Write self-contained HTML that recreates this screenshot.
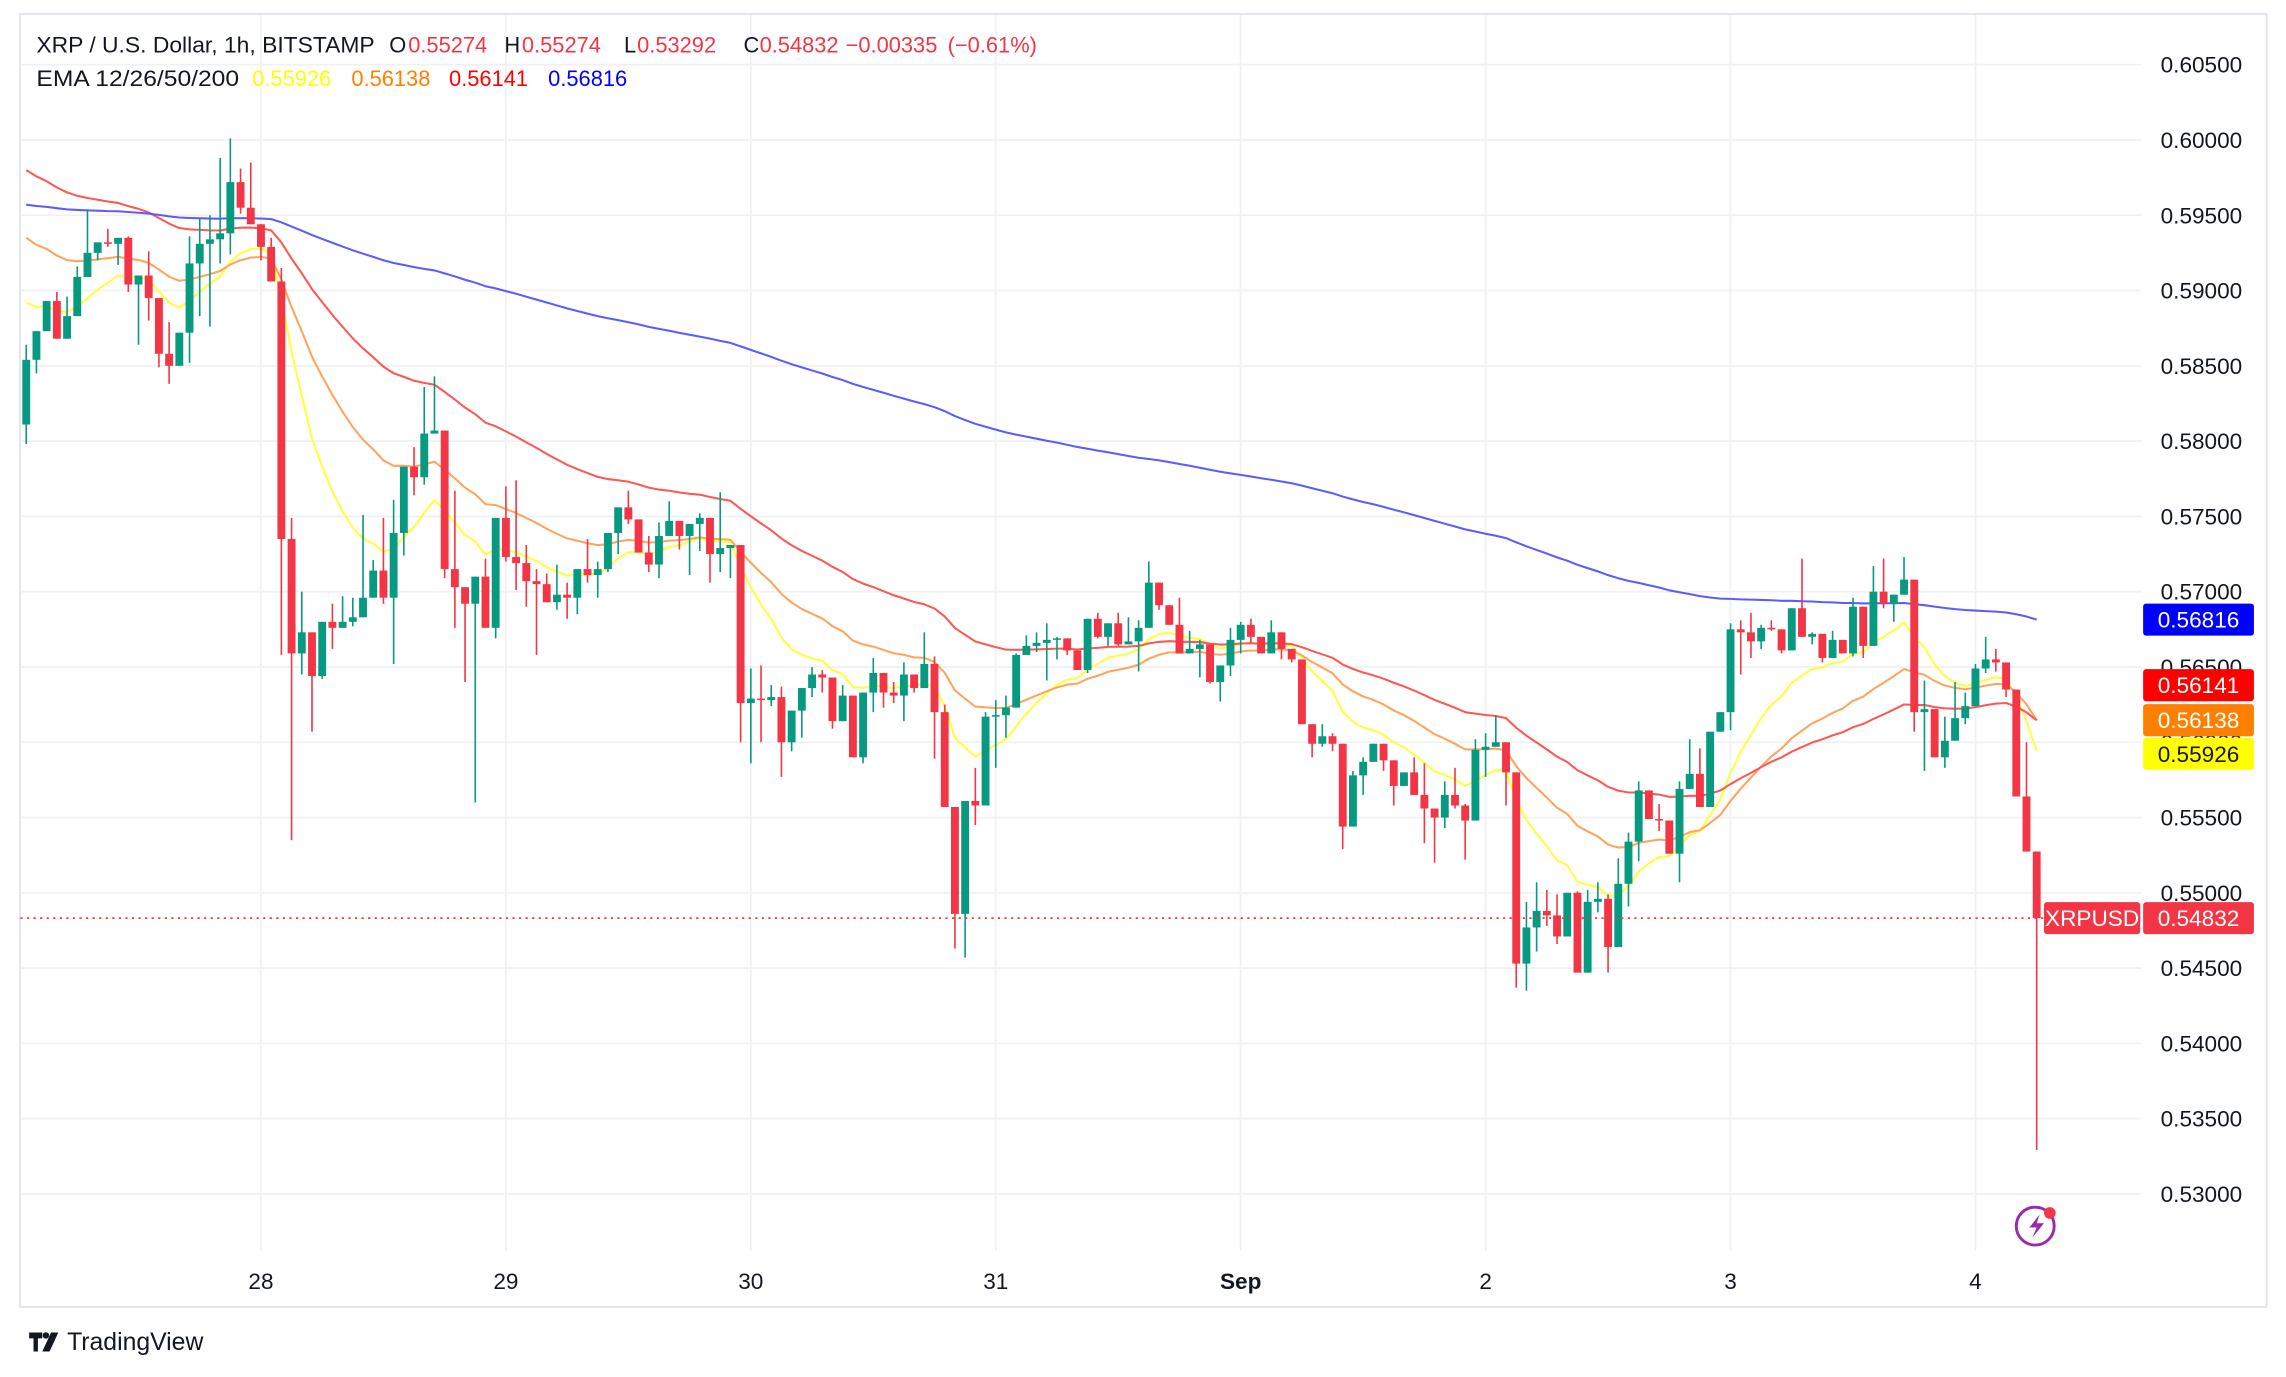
<!DOCTYPE html>
<html><head><meta charset="utf-8"><title>XRP / U.S. Dollar 1h chart</title>
<style>
html,body{margin:0;padding:0;background:#fff;}
svg{display:block;}
text{font-family:"Liberation Sans",sans-serif;}
</style></head>
<body>
<svg id="chart" width="2286" height="1377" viewBox="0 0 1568 944.5" xmlns="http://www.w3.org/2000/svg">
  <rect x="0" y="0" width="1568" height="944.5" fill="#fff"/>
  <rect x="13.7" y="9.5" width="1541" height="887" fill="none" stroke="#e0e3eb" stroke-width="1.2"/>
  <g id="grid"></g>
  <g id="emas"></g>
  <g id="candles"></g>
  <g id="axes"></g>
  <g id="overlay"></g>
  <g>
    <text y="36" font-size="15" fill="#131722"><tspan x="25" textLength="232" lengthAdjust="spacingAndGlyphs">XRP / U.S. Dollar, 1h, BITSTAMP</tspan><tspan x="267">O</tspan><tspan x="280" fill="#f23645">0.55274</tspan><tspan x="346">H</tspan><tspan x="358" fill="#f23645">0.55274</tspan><tspan x="428">L</tspan><tspan x="437" fill="#f23645">0.53292</tspan><tspan x="510">C</tspan><tspan x="521" fill="#f23645">0.54832</tspan><tspan x="580" fill="#f23645">−0.00335</tspan><tspan x="650" fill="#f23645">(−0.61%)</tspan></text>
    <text y="59" font-size="15" fill="#131722"><tspan x="25" textLength="139" lengthAdjust="spacingAndGlyphs">EMA 12/26/50/200</tspan><tspan x="173" fill="#ffff00">0.55926</tspan><tspan x="241" fill="#ff8000">0.56138</tspan><tspan x="308" fill="#ff0000">0.56141</tspan><tspan x="376" fill="#0000ff">0.56816</tspan></text>
  </g>
  <g>
    <path d="M20 914 h9 v4 h-3 v9 h-3 v-9 h-3z" fill="#131722"/>
    <circle cx="31.5" cy="916" r="2.2" fill="#131722"/>
    <path d="M35 914 h5 l-6 13 h-5z" fill="#131722"/>
    <text x="46" y="926" font-size="17" fill="#131722">TradingView</text>
  </g>
  <g>
    <circle cx="1396" cy="841" r="13" fill="none" stroke="#9c27b0" stroke-width="2"/>
    <path d="M1399 833 l-7 9 h5 l-3 7 l8 -10 h-5z" fill="#9c27b0"/>
    <circle cx="1406" cy="832" r="4" fill="#f23645"/>
  </g>
</svg>
<script>
// ---- data ----
const closes = [0.5854,0.5873,0.5893,0.5868,0.5883,0.5909,0.5925,0.5932,0.5931,0.5935,
0.5904,0.5910,0.5895,0.5858,0.5850,0.5872,0.5918,0.5931,0.5934,0.5938,
0.5972,0.5955,0.5944,0.5929,0.5906,0.5735,0.5659,0.5673,0.5644,0.5680,
0.5676,0.5680,0.5683,0.5696,0.5714,0.5696,0.5739,0.5783,0.5776,0.5805,
0.5807,0.5715,0.5703,0.5692,0.5710,0.5676,0.5749,0.5723,0.5719,0.5707,
0.5705,0.5693,0.5698,0.5696,0.5715,0.5711,0.5715,0.5739,0.5756,0.5748,
0.5726,0.5718,0.5737,0.5747,0.5737,0.5745,0.5749,0.5725,0.5729,0.5731,
0.5626,0.5629,0.5628,0.5630,0.5600,0.5621,0.5636,0.5645,0.5643,0.5614,
0.5631,0.5590,0.5633,0.5646,0.5633,0.5631,0.5645,0.5636,0.5652,0.5620,
0.5557,0.5486,0.5561,0.5558,0.5617,0.5618,0.5623,0.5658,0.5664,0.5666,
0.5668,0.5669,0.5661,0.5648,0.5682,0.5670,0.5679,0.5665,0.5667,0.5676,
0.5706,0.5691,0.5678,0.5659,0.5662,0.5665,0.5640,0.5651,0.5668,0.5678,
0.5670,0.5659,0.5673,0.5662,0.5655,0.5612,0.5599,0.5604,0.5599,0.5544,
0.5578,0.5587,0.5599,0.5588,0.5571,0.5580,0.5565,0.5556,0.5550,0.5565,
0.5558,0.5548,0.5595,0.5597,0.5600,0.5580,0.5453,0.5477,0.5488,0.5485,
0.5471,0.5500,0.5447,0.5494,0.5496,0.5464,0.5506,0.5534,0.5568,0.5549,
0.5548,0.5526,0.5569,0.5579,0.5557,0.5607,0.5620,0.5675,0.5673,0.5667,
0.5676,0.5675,0.5661,0.5689,0.5670,0.5672,0.5656,0.5668,0.5659,0.5690,
0.5664,0.5700,0.5692,0.5698,0.5708,0.5620,0.5622,0.5590,0.5601,0.5616,
0.5624,0.5649,0.5655,0.5653,0.5635,0.5564,0.55274,0.54832];
const firstOpen = 0.5811;
const highs = [.5864,null,null,.5899,.5896,.5916,.5954,null,.5941,null,
.5936,null,.5926,null,.5879,null,.5936,.5948,.5950,.5988,
.6001,.5981,.5985,null,.5935,.5915,.5749,.5700,null,null,
.5692,.5697,.5696,.5751,.5721,.5749,.5761,null,.5796,.5836,
.5843,null,.5767,null,null,.5722,null,.5770,.5774,.5731,
.5715,.5712,.5718,.5706,null,.5735,.5720,null,null,.5767,
.5727,.5737,.5746,.5760,.5740,null,.5752,null,.5766,null,
null,.5649,.5651,.5638,.5637,null,null,.5650,.5648,null,
.5638,null,null,.5656,.5641,.5640,.5653,.5643,.5673,.5657,
.5625,null,null,.5583,.5620,.5628,.5631,.5659,.5671,.5673,
.5679,.5670,.5665,null,null,.5686,null,.5686,.5683,.5681,
.5720,null,.5687,.5696,.5674,.5668,.5642,null,.5676,.5680,
.5682,null,.5681,.5668,.5657,.5652,null,.5612,.5606,null,
.5581,.5590,null,null,null,null,.5590,.5586,.5553,.5574,
.5583,.5559,.5602,.5606,.5618,.5600,null,.5494,.5507,.5502,
.5499,null,.5501,.5502,.5507,.5499,.5523,.5540,.5574,.5565,
.5559,null,.5574,.5602,.5596,null,null,.5679,.5681,.5686,
.5678,.5681,null,null,.5722,.5673,.5659,.5674,null,.5696,
null,.5717,.5722,null,.5723,null,.5641,.5620,.5617,.5640,
.5633,.5652,.5670,.5662,null,.5625,.5600,.55274];
const lows = [.5798,.5845,null,null,.5870,null,null,.5920,.5929,.5917,
.5899,.5864,.5880,.5849,.5838,null,.5852,.5883,.5876,.5918,
.5924,.5951,null,.5920,null,.5658,.5535,.5645,.5607,.5642,
.5662,.5676,.5677,null,.5708,.5692,.5652,.5724,.5764,.5771,
null,.5709,.5676,.5640,.5560,null,.5669,.5720,.5701,.5690,
.5658,null,.5688,.5682,.5685,.5706,.5696,.5713,.5725,.5745,
null,.5713,.5709,.5745,.5728,.5711,.5727,.5706,.5713,.5709,
.5600,.5586,.5600,.5624,.5577,.5594,.5603,.5630,.5633,.5609,
null,null,.5586,.5620,.5623,.5626,.5614,.5633,null,.5589,
null,.5463,.5457,.5545,null,.5583,.5603,null,.5660,.5660,
.5641,.5655,.5658,null,.5646,.5669,.5664,.5664,null,.5647,
null,.5688,null,null,null,.5643,.5639,.5627,.5644,.5659,
.5666,null,null,.5655,.5653,null,.5590,.5597,.5594,.5529,
.5547,.5565,null,.5581,.5558,null,null,.5533,.5520,.5543,
.5556,.5522,null,.5577,null,.5558,.5437,.5435,.5461,.5478,
.5466,null,null,null,.5487,.5447,.5475,.5491,.5521,null,
.5541,null,.5507,null,null,null,.5611,.5608,.5645,.5656,
.5662,.5674,.5659,null,null,.5665,.5653,.5664,null,.5657,
.5656,null,.5689,.5680,null,.5607,.5581,null,.5583,.5603,
.5612,null,.5646,.5647,.5630,null,null,.53292];
const emaPeriods = [12, 26, 50, 200];
const emaSeeds = [0.5892, 0.5935, 0.5980, 0.5957];
const emaColors = ['#ffff3c', '#ffa45a', '#ff5656', '#5b5bff'];
const priceTicks = ['0.60500','0.60000','0.59500','0.59000','0.58500','0.58000','0.57500','0.57000','0.56500','0.56000','0.55500','0.55000','0.54500','0.54000','0.53500','0.53000'];
const dayLabels = ['28','29','30','31','Sep','2','3','4'];
const dayStartIndex = [23, 47, 71, 95, 119, 143, 167, 191];
const emaLabelValues = ['0.56816','0.56141','0.56138','0.55926'];
const lastPrice = 0.54832;

// ---- axes ----
const X0 = 18, STEP = 7;
function xOf(i){ return X0 + i*STEP; }
function yOf(p){ return 96 + (0.6 - p) / 0.005 * 51.64; }
const NS = 'http://www.w3.org/2000/svg';
function mk(tag, attrs, parent){
  const e = document.createElementNS(NS, tag);
  for (const k in attrs) e.setAttribute(k, attrs[k]);
  parent.appendChild(e); return e;
}
const grid = document.getElementById('grid');
const axes = document.getElementById('axes');
const PLOT_R = 1469, PLOT_B = 858;
priceTicks.forEach(t => {
  const y = yOf(parseFloat(t));
  const l = mk('line', {x1:14, x2:PLOT_R, y1:y, y2:y, stroke:'#f0f1f4', 'stroke-width':1.2}, grid);
  
  
  const tx = mk('text', {x:1482, y:y+5.5, 'font-size':15.5, fill:'#131722'}, axes);
  tx.textContent = t;
  
  
});
dayLabels.forEach((d, k) => {
  const x = xOf(dayStartIndex[k]);
  const l = mk('line', {x1:x, x2:x, y1:10, y2:PLOT_B, stroke:'#f0f1f4', 'stroke-width':1.2}, grid);
  
  
  const tx = mk('text', {x:x, y:884, 'font-size':15.5, fill:'#131722', 'text-anchor':'middle', 'font-weight': d==='Sep'?'bold':'normal'}, axes);
  tx.textContent = d;
  
  
});

// ---- EMAs ----
const emaG = document.getElementById('emas');
emaPeriods.forEach((n, s) => {
  const k = 2 / (n + 1);
  let e = emaSeeds[s];
  const pts = [];
  closes.forEach((c, i) => {
    if (i > 0) e = e + k * (c - e);
    pts.push(xOf(i).toFixed(1) + ',' + yOf(e).toFixed(1));
  });
  const pl = mk('polyline', {points: pts.join(' '), fill:'none', stroke: emaColors[s], 'stroke-width':1.4, 'stroke-linejoin':'round'}, emaG);
  
  
});

// ---- candles ----
const cg = document.getElementById('candles');
closes.forEach((c, i) => {
  const o = i === 0 ? firstOpen : closes[i-1];
  const up = c >= o;
  const col = up ? '#089981' : '#f23645';
  const hi = highs[i] !== null ? Math.max(highs[i], o, c) : Math.max(o, c);
  const lo = lows[i] !== null ? Math.min(lows[i], o, c) : Math.min(o, c);
  const x = xOf(i);
  const g = mk('g', {}, cg);
  
  
  mk('line', {x1:x, x2:x, y1:yOf(hi), y2:yOf(lo), stroke:col, 'stroke-width':1.1}, g);
  const top = yOf(Math.max(o, c)), bot = yOf(Math.min(o, c));
  mk('rect', {x:x-2.7, y:top, width:5.4, height:Math.max(bot-top, 1), fill:col}, g);
});

// ---- overlay: last price line and labels ----
const ov = document.getElementById('overlay');
const ly = yOf(lastPrice);
const dl = mk('line', {x1:14, x2:1402, y1:ly, y2:ly, stroke:'#f23645', 'stroke-width':1.2, 'stroke-dasharray':'1.5 3'}, ov);


function label(txt, cy, bg, fg, x, w, name){
  const g = mk('g', {}, ov);
  
  
  mk('rect', {x:x, y:cy-11, width:w, height:22, rx:2, fill:bg}, g);
  const t = mk('text', {x:x + w/2, y:cy+5.5, 'font-size':15.5, fill:fg, 'text-anchor':'middle'}, g);
  t.textContent = txt;
}
const labelStyles = [['#0000ff','#fff',425],['#ff0000','#fff',470],['#ff8000','#fff',494],['#ffff00','#131722',517]];
emaLabelValues.forEach((v, k) => {
  label(v, labelStyles[k][2], labelStyles[k][0], labelStyles[k][1], 1470, 76, 'ema-' + emaPeriods[3-k] + '-price-label');
});
label('XRPUSD', ly, '#f23645', '#fff', 1402, 66, 'symbol-price-label');
label(lastPrice.toFixed(5), ly, '#f23645', '#fff', 1470, 76, 'last-price-label');
</script>
</body></html>
